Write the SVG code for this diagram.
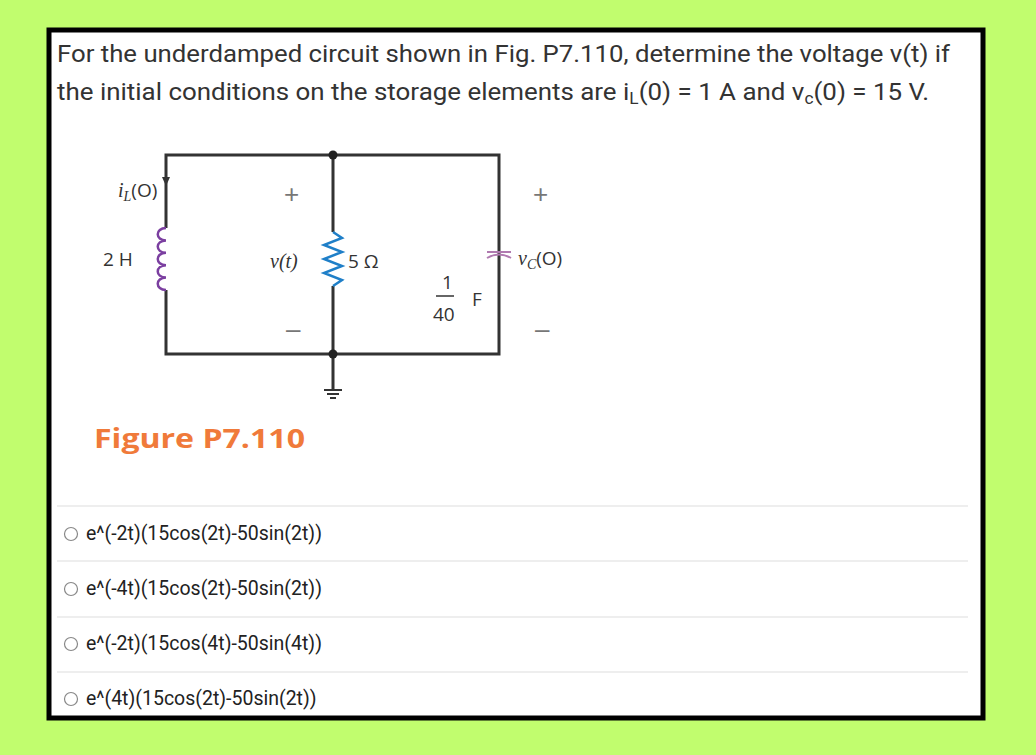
<svg xmlns="http://www.w3.org/2000/svg" width="1036" height="755" viewBox="0 0 1036 755">
<style>
.t{font-family:Roboto,"Liberation Sans",sans-serif;font-size:24px;fill:#333}
.o{font-family:Roboto,"Liberation Sans",sans-serif;font-size:19.5px;fill:#222}
.w{stroke:#333;stroke-width:3;fill:none}
.c{font-family:"Open Sans","Liberation Sans",sans-serif;font-size:19px;fill:#333}
.i{font-family:"Liberation Serif",serif;font-style:italic;font-size:20px;fill:#333}
.r{fill:none;stroke:#888;stroke-width:1.2}
.sep{stroke:#ddd;stroke-width:1}
.pm{font-family:"Liberation Sans",sans-serif;font-size:26px;fill:#777}
</style>
<rect width="1036" height="755" fill="#c1fd6e"/>
<rect x="49" y="30" width="934" height="688" fill="#fff" stroke="#000" stroke-width="5"/>
<text class="t" x="57" y="62" textLength="893" lengthAdjust="spacingAndGlyphs">For the underdamped circuit shown in Fig. P7.110, determine the voltage v(t) if</text>
<text class="t" x="57" y="100" textLength="872" lengthAdjust="spacingAndGlyphs">the initial conditions on the storage elements are i<tspan font-size="16" dy="4">L</tspan><tspan dy="-4">(0) = 1 A and v</tspan><tspan font-size="16" dy="4">c</tspan><tspan dy="-4">(0) = 15 V.</tspan></text>
<g id="wires" class="w">
<path d="M166 228V155H499V354H166V290"/>
<path d="M333 155V232M333 286V390"/>
<path d="M324 390h18M327 394h12M330 398h6" stroke-width="2"/>
</g>
<g id="inductor">
<path d="M166 228c-11 0-11 12.4 0 12.4c-11 0-11 12.4 0 12.4c-11 0-11 12.4 0 12.4c-11 0-11 12.4 0 12.4c-11 0-11 12.4 0 12.4" fill="none" stroke="#7b3fa0" stroke-width="2.5"/>
<text class="i" x="118" y="197">i<tspan font-size="14" dy="4">L</tspan><tspan class="c" dy="-4" font-style="normal">(O)</tspan></text>
<path d="M166 186l-4-9h8z" fill="#333"/>
<text class="c" x="103" y="266">2 H</text>
</g>
<g id="resistor">
<path d="M333 232l9 6l-18 7l18 7l-18 7l18 7l-18 7l18 7l-9 6" fill="none" stroke="#1f7fc8" stroke-width="2.5"/>
<text class="i" x="270" y="268">v(t)</text>
<text class="c" x="348" y="268">5 Ω</text>
<text class="pm" x="284" y="203">+</text>
<text class="pm" x="286" y="338">–</text>
</g>
<g id="capacitor">
<path d="M487 252h24M487 258q12-7 24 0" fill="none" stroke="#b07ab0" stroke-width="2"/>
<text class="i" x="518" y="265">v<tspan font-size="14" dy="4">C</tspan><tspan class="c" dy="-4" font-style="normal">(O)</tspan></text>
<text class="c" x="442" y="289">1</text>
<path d="M436 296h18" stroke="#333" stroke-width="1.5"/>
<text class="c" x="433" y="321">40</text>
<text class="c" x="472" y="306">F</text>
<text class="pm" x="533" y="203">+</text>
<text class="pm" x="535" y="338">–</text>
</g>
<circle cx="333" cy="155" r="4.5" fill="#222"/>
<circle cx="333" cy="354" r="4.5" fill="#222"/>
<text x="94" y="448" font-family="'Open Sans','Liberation Sans',sans-serif" font-size="26" font-weight="bold" fill="#f07a3a" textLength="211" lengthAdjust="spacingAndGlyphs">Figure P7.110</text>
<g id="options">
<line class="sep" x1="57" y1="506" x2="968" y2="506"/>
<line class="sep" x1="57" y1="561" x2="968" y2="561"/>
<line class="sep" x1="57" y1="617" x2="968" y2="617"/>
<line class="sep" x1="57" y1="672" x2="968" y2="672"/>
<circle class="r" cx="71" cy="534" r="6.5"/><text class="o" x="86" y="540">e^(-2t)(15cos(2t)-50sin(2t))</text>
<circle class="r" cx="71" cy="589" r="6.5"/><text class="o" x="86" y="595">e^(-4t)(15cos(2t)-50sin(2t))</text>
<circle class="r" cx="71" cy="644" r="6.5"/><text class="o" x="86" y="650">e^(-2t)(15cos(4t)-50sin(4t))</text>
<circle class="r" cx="71" cy="699" r="6.5"/><text class="o" x="86" y="705">e^(4t)(15cos(2t)-50sin(2t))</text>
</g>
</svg>
